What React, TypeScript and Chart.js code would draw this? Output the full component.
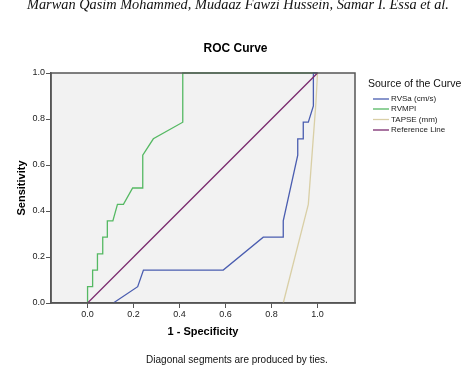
import React, { useEffect, useRef } from "react";
import { Chart, registerables } from "chart.js";

Chart.register(...registerables);

// ---- data ----
const rvsaX = [0.112, 0.218, 0.243, 0.59, 0.764, 0.851, 0.851, 0.914, 0.914, 0.938, 0.938, 0.96, 0.982, 0.982, 1.0];
const rvsaY = [0.0, 0.071, 0.143, 0.143, 0.286, 0.286, 0.357, 0.643, 0.714, 0.714, 0.786, 0.786, 0.857, 1.0, 1.0];

const rvmpiX = [0.0, 0.0, 0.022, 0.022, 0.043, 0.043, 0.066, 0.066, 0.086, 0.086, 0.11, 0.13, 0.156, 0.196, 0.24, 0.24, 0.286, 0.414, 0.414, 1.0];
const rvmpiY = [0.0, 0.071, 0.071, 0.143, 0.143, 0.214, 0.214, 0.286, 0.286, 0.357, 0.357, 0.429, 0.429, 0.5, 0.5, 0.643, 0.714, 0.786, 1.0, 1.0];

const tapseX = [0.851, 0.96, 0.993, 1.0];
const tapseY = [0.0, 0.429, 0.87, 1.0];

const refX = [0.0, 1.0];
const refY = [0.0, 1.0];

const xTicks = [0.0, 0.2, 0.4, 0.6, 0.8, 1.0];
const yTicks = [0.0, 0.2, 0.4, 0.6, 0.8, 1.0];

const seriesNames = ["RVSa (cm/s)", "RVMPI", "TAPSE (mm)", "Reference Line"];
const seriesColors = ["#4a5db0", "#55b963", "#d9cfa6", "#7b2a6f"];

const headerText = "Marwan Qasim Mohammed, Mudaaz Fawzi Hussein, Samar I. Essa et al.";
const titleText = "ROC Curve";
const xTitle = "1 - Specificity";
const yTitle = "Sensitivity";
const legendTitle = "Source of the Curve";
const footerText = "Diagonal segments are produced by ties.";

const toPts = (xs: number[], ys: number[]) => xs.map((x, i) => ({ x, y: ys[i] }));

const SANS = '"Liberation Sans", Arial, sans-serif';

const decorPlugin = {
  id: "decor",
  beforeDraw(chart: any) {
    const { ctx, chartArea } = chart;
    ctx.save();
    ctx.fillStyle = "#f2f2f2";
    ctx.fillRect(chartArea.left, chartArea.top, chartArea.right - chartArea.left, chartArea.bottom - chartArea.top);
    ctx.restore();
  },
  afterDraw(chart: any) {
    const { ctx, chartArea } = chart;
    ctx.save();
    // box
    ctx.strokeStyle = "#555555";
    ctx.lineWidth = 1.5;
    ctx.strokeRect(chartArea.left, chartArea.top, chartArea.right - chartArea.left, chartArea.bottom - chartArea.top);

    // header (cut off at top)
    ctx.fillStyle = "#111";
    ctx.font = 'italic 100px "Liberation Serif", "Times New Roman", serif';
    const w100 = ctx.measureText(headerText).width;
    const hs = (100 * 422) / w100;
    ctx.font = `italic ${hs.toFixed(2)}px "Liberation Serif", "Times New Roman", serif`;
    ctx.textAlign = "left";
    ctx.textBaseline = "alphabetic";
    ctx.fillText(headerText, 27, 9);

    // title
    ctx.fillStyle = "#000";
    ctx.font = `bold 12px ${SANS}`;
    ctx.textAlign = "center";
    ctx.textBaseline = "middle";
    ctx.fillText(titleText, 235.5, 48.5);

    // axis titles
    ctx.font = `bold 11px ${SANS}`;
    ctx.fillText(xTitle, (chartArea.left + chartArea.right) / 2, 331.5);
    ctx.save();
    ctx.translate(22, (chartArea.top + chartArea.bottom) / 2);
    ctx.rotate(-Math.PI / 2);
    ctx.fillText(yTitle, 0, 0);
    ctx.restore();

    // footer
    ctx.font = `10px ${SANS}`;
    ctx.fillStyle = "#111";
    ctx.fillText(footerText, 237, 360.5);

    // legend
    ctx.textAlign = "left";
    ctx.fillStyle = "#111";
    ctx.font = `10.5px ${SANS}`;
    ctx.fillText(legendTitle, 368, 84);
    ctx.font = `8px ${SANS}`;
    const rows = [99, 109, 119.5, 130];
    seriesNames.forEach((name, i) => {
      ctx.strokeStyle = seriesColors[i];
      ctx.lineWidth = 1.3;
      ctx.beginPath();
      ctx.moveTo(373, rows[i]);
      ctx.lineTo(389, rows[i]);
      ctx.stroke();
      ctx.fillStyle = "#222";
      ctx.fillText(name, 391, rows[i]);
    });
    ctx.restore();
  },
};

export default function App() {
  const ref = useRef<HTMLCanvasElement | null>(null);
  useEffect(() => {
    if (!ref.current) return;
    const mk = (label: string, xs: number[], ys: number[], color: string) => ({
      label,
      data: toPts(xs, ys),
      showLine: true,
      borderColor: color,
      backgroundColor: color,
      borderWidth: 1.3,
      pointRadius: 0,
      pointHoverRadius: 0,
      tension: 0,
      clip: false as any,
    });
    const chart = new Chart(ref.current, {
      type: "scatter",
      data: {
        datasets: [
          mk(seriesNames[3], refX, refY, seriesColors[3]),
          mk(seriesNames[2], tapseX, tapseY, seriesColors[2]),
          mk(seriesNames[0], rvsaX, rvsaY, seriesColors[0]),
          mk(seriesNames[1], rvmpiX, rvmpiY, seriesColors[1]),
        ],
      },
      options: {
        animation: false,
        responsive: false,
        devicePixelRatio: 1,
        layout: { padding: { left: 0, top: 73, right: 119, bottom: 0 } },
        plugins: { legend: { display: false }, tooltip: { enabled: false }, title: { display: false } },
        scales: {
          x: {
            type: "linear",
            min: -0.159,
            max: 1.163,
            afterBuildTicks: (axis: any) => {
              axis.ticks = xTicks.map((v) => ({ value: v }));
            },
            afterFit: (axis: any) => {
              axis.height = 76;
            },
            ticks: {
              font: { size: 9, family: SANS },
              color: "#222",
              padding: 1,
              maxRotation: 0,
              callback: (v: any) => Number(v).toFixed(1),
            },
            grid: { display: true, drawOnChartArea: false, drawTicks: true, tickLength: 5, color: "#555", lineWidth: 1 },
            border: { display: true, color: "#555", width: 1.5 },
          },
          y: {
            type: "linear",
            min: 0,
            max: 1,
            afterBuildTicks: (axis: any) => {
              axis.ticks = yTicks.map((v) => ({ value: v }));
            },
            afterFit: (axis: any) => {
              axis.width = 51;
            },
            ticks: {
              font: { size: 9, family: SANS },
              color: "#222",
              padding: 1,
              callback: (v: any) => Number(v).toFixed(1),
            },
            grid: { display: true, drawOnChartArea: false, drawTicks: true, tickLength: 5, color: "#555", lineWidth: 1 },
            border: { display: true, color: "#555", width: 1.5 },
          },
        },
      },
      plugins: [decorPlugin],
    });
    return () => chart.destroy();
  }, []);
  return (
    <div style={{ position: "absolute", left: 0, top: 0, width: 474, height: 379, background: "#fff" }}>
      <canvas ref={ref} width={474} height={379} style={{ display: "block", width: 474, height: 379 }} />
    </div>
  );
}
